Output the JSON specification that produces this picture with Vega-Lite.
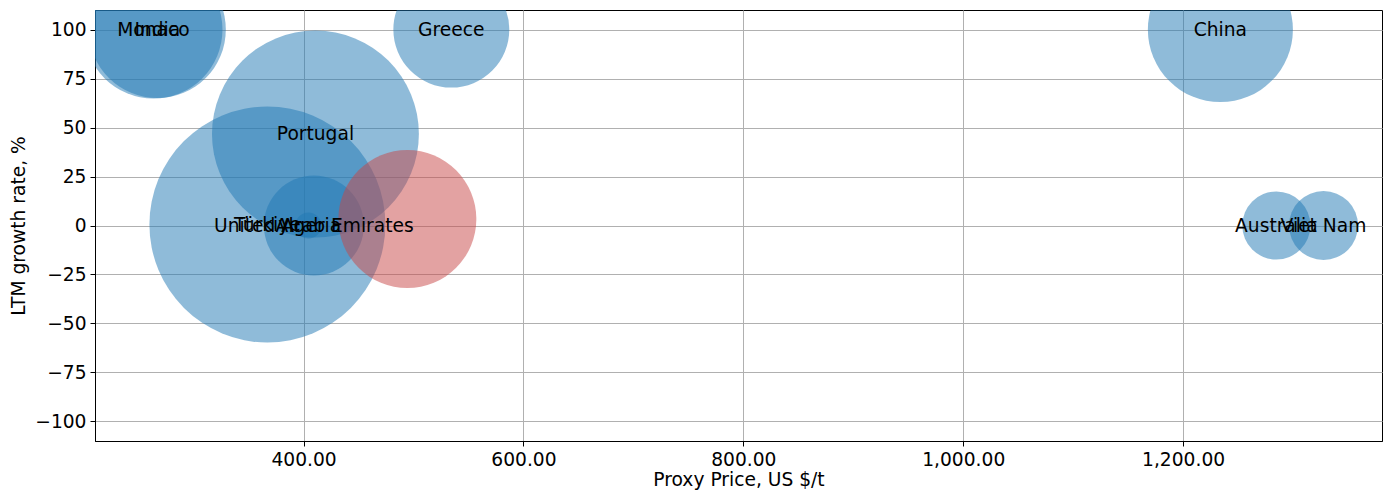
{
  "$schema": "https://vega.github.io/schema/vega-lite/v6.json",
  "width": 1287,
  "height": 431,
  "autosize": {"type": "none"},
  "padding": {"left": 95, "top": 10, "right": 7, "bottom": 49},
  "background": "white",
  "config": {
    "view": {"stroke": "#000000", "strokeWidth": 1},
    "font": "DejaVu Sans",
    "axis": {
      "labelFont": "DejaVu Sans",
      "labelFontSize": 18.67,
      "labelColor": "#000000",
      "titleFont": "DejaVu Sans",
      "titleFontSize": 18.67,
      "titleFontWeight": "normal",
      "titleColor": "#000000",
      "domainColor": "#000000",
      "domainWidth": 1,
      "tickColor": "#000000",
      "tickWidth": 1,
      "tickSize": 5,
      "labelPadding": 4,
      "gridColor": "#b0b0b0",
      "gridWidth": 1,
      "gridOpacity": 1,
      "zindex": 1
    }
  },
  "data": {
    "values": [
      {"country": "Monaco", "price": 263.5, "growth": 100, "volume": 47.6, "group": "market"},
      {"country": "India", "price": 267.0, "growth": 100, "volume": 46.9, "group": "market"},
      {"country": "Greece", "price": 534.4, "growth": 100, "volume": 33.6, "group": "market"},
      {"country": "China", "price": 1233.9, "growth": 100, "volume": 52.6, "group": "market"},
      {"country": "Australia", "price": 1284.8, "growth": 0, "volume": 11.6, "group": "market"},
      {"country": "Viet Nam", "price": 1327.7, "growth": 0, "volume": 11.9, "group": "market"},
      {"country": "Türkiye", "price": 367.1, "growth": 0.5, "volume": 139.2, "group": "market"},
      {"country": "United Arab Emirates", "price": 409.4, "growth": 0, "volume": 25.0, "group": "market"},
      {"country": "Algeria", "price": 404.4, "growth": 0, "volume": 1.7, "group": "market"},
      {"country": "Portugal", "price": 410.8, "growth": 46.7, "volume": 107.0, "group": "market"},
      {"country": null, "price": 494.4, "growth": 3.3, "volume": 47.6, "group": "focus"}
    ]
  },
  "layer": [
    {
      "mark": {"type": "circle", "opacity": 0.5, "clip": true},
      "encoding": {
        "x": {
          "field": "price",
          "type": "quantitative",
          "scale": {"domain": [210.3, 1380.9], "nice": false, "zero": false},
          "axis": {"values": [400, 600, 800, 1000, 1200], "format": ",.2f", "title": "Proxy Price, US $/t", "titlePadding": 2}
        },
        "y": {
          "field": "growth",
          "type": "quantitative",
          "scale": {"domain": [-110, 110], "nice": false, "zero": false},
          "axis": {"values": [-100, -75, -50, -25, 0, 25, 50, 75, 100], "format": "d", "title": "LTM growth rate, %", "titlePadding": 6}
        },
        "size": {
          "field": "volume",
          "type": "quantitative",
          "scale": {"domain": [0, 100], "range": [0, 40000], "zero": true},
          "legend": null
        },
        "color": {
          "field": "group",
          "type": "nominal",
          "scale": {"domain": ["market", "focus"], "range": ["#1f77b4", "#c84545"]},
          "legend": null
        }
      }
    },
    {
      "transform": [{"filter": "datum.country != null"}],
      "mark": {"type": "text", "fontSize": 18.67, "font": "DejaVu Sans", "color": "#000000", "align": "center", "baseline": "middle"},
      "encoding": {
        "x": {"field": "price", "type": "quantitative"},
        "y": {"field": "growth", "type": "quantitative"},
        "text": {"field": "country", "type": "nominal"}
      }
    }
  ]
}
